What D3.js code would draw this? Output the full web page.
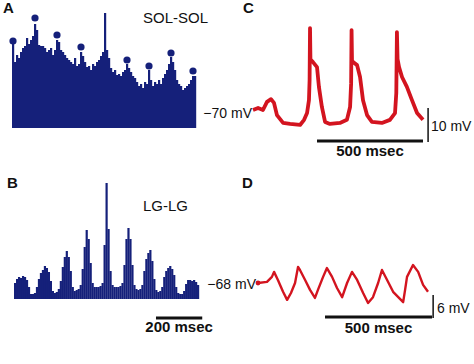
<!DOCTYPE html>
<html>
<head>
<meta charset="utf-8">
<script src="https://cdn.jsdelivr.net/npm/d3@7"></script>
<style>
  body { margin: 0; background: #fff; }
  svg text { font-family: "Liberation Sans", Arial, sans-serif; fill: #111; }
</style>
</head>
<body>
<div id="chart"></div>
<script>
// A: SOL-SOL correlogram, bin counts (left to right)
var solCounts = [84,66,73,70,76,80,82,90,84,88,92,104,98,83,82,82,80,76,78,80,73,78,88,86,78,76,73,70,68,66,64,70,62,64,76,72,66,61,62,58,64,62,66,68,72,76,115,78,70,60,56,58,53,54,52,56,58,64,60,56,52,50,46,42,44,40,46,44,58,48,42,46,44,48,44,50,54,58,64,71,66,58,48,44,42,38,40,42,44,48,52,52];
// bins marked with a dot, and the dot height
var solPeakBins = [0, 11, 22, 34, 57, 68, 79, 90];
var solPeakVals = [87, 110, 93, 81, 68, 62, 75, 57];

// B: LG-LG correlogram, bin counts
var lgCounts = [16,20,22,21,23,22,19,12,5,5,6,12,20,26,29,33,31,27,18,8,6,7,10,18,32,42,48,42,28,12,8,9,10,14,30,52,69,60,36,16,12,12,12,13,16,54,116,70,28,14,12,12,12,13,16,34,60,71,60,34,14,10,9,10,14,28,40,46,49,38,20,9,7,8,12,22,28,31,33,30,24,12,6,5,5,8,15,19,19,18,19,17,14];

// C: SOL membrane potential (msec, mV)
var solTime = [0,24,47,66,85,99,113,142,175,222,241,255,264,267,269,271,274,283,302,311,325,340,363,410,443,458,463,465,467,472,491,505,519,538,561,608,646,670,676,679,682,689,703,726,750,774,802];
var solVolt = [-70,-69.4,-70,-67.6,-66.8,-67.9,-71.5,-73.8,-74.1,-74.4,-72.9,-70.9,-67.1,-61.2,-45.9,-55.3,-55.3,-55.9,-57.4,-63.2,-69.1,-73.5,-74.1,-73.8,-72.9,-69.1,-62.1,-46.5,-55.3,-55.9,-56.8,-60.3,-67.1,-71.5,-73.5,-73.8,-72.9,-70.9,-65,-47.1,-55,-57.4,-60.3,-63.2,-67.1,-70.9,-72.9];

// D: LG membrane potential (msec, mV)
var lgTime = [0,42,65,75,93,117,136,154,173,187,196,220,243,266,280,304,322,346,369,393,416,439,463,491,514,537,561,579,603,631,678,687,696,724,748,771,794];
var lgVolt = [-68,-67.7,-66.4,-65.1,-67.2,-70.3,-72.4,-70.6,-68,-63.8,-64.6,-67.2,-69.8,-71.9,-69.8,-66.4,-64.1,-66.4,-69.3,-71.7,-68,-65.1,-67.2,-70.6,-73.2,-71.7,-68,-64.6,-67.2,-70.3,-73,-69.8,-66.4,-63.3,-65.1,-68.5,-70.3];

(function () {
  'use strict';

  var width = 474, height = 364,
      navy = '#15207a',
      red = '#d3141f';

  var svg = d3.select('#chart').append('svg')
    .attr('width', width)
    .attr('height', height);

  svg.append('rect').attr('width', width).attr('height', height).attr('fill', '#fff');

  // panel letters
  var letters = [['A', 3, 13], ['B', 7, 188], ['C', 243, 13], ['D', 242, 188]];
  svg.selectAll('.letter').data(letters).enter().append('text')
    .attr('class', 'letter')
    .attr('x', function (d) { return d[1]; })
    .attr('y', function (d) { return d[2]; })
    .style('font-size', '15px')
    .style('font-weight', 'bold')
    .text(function (d) { return d[0]; });

  // ---- A ----
  var xA = d3.scaleBand().domain(d3.range(solCounts.length)).range([12, 196]);
  var yA = d3.scaleLinear().domain([0, 115]).range([128, 13]);

  svg.append('g').selectAll('rect').data(solCounts).enter().append('rect')
    .attr('x', function (d, i) { return xA(i); })
    .attr('y', function (d) { return yA(d); })
    .attr('width', xA.bandwidth() + 0.2)
    .attr('height', function (d) { return yA(0) - yA(d); })
    .attr('fill', navy);

  svg.append('g').selectAll('circle').data(solPeakBins).enter().append('circle')
    .attr('cx', function (d) { return xA(d) + xA.bandwidth() / 2; })
    .attr('cy', function (d, i) { return yA(solPeakVals[i]); })
    .attr('r', 3.6)
    .attr('fill', navy);

  svg.append('text').attr('x', 143).attr('y', 23)
    .style('font-size', '15px').text('SOL-SOL');

  // ---- B ----
  var xB = d3.scaleBand().domain(d3.range(lgCounts.length)).range([14, 199]);
  var yB = d3.scaleLinear().domain([0, 116]).range([299, 183]);
  var lagB = d3.scaleLinear().domain([-400, 400]).range([14, 199]);

  svg.append('g').selectAll('rect').data(lgCounts).enter().append('rect')
    .attr('x', function (d, i) { return xB(i); })
    .attr('y', function (d) { return yB(d); })
    .attr('width', xB.bandwidth() + 0.2)
    .attr('height', function (d) { return yB(0) - yB(d); })
    .attr('fill', navy);

  svg.append('text').attr('x', 143).attr('y', 211)
    .style('font-size', '15px').text('LG-LG');

  svg.append('line')
    .attr('x1', lagB(214)).attr('x2', lagB(414))
    .attr('y1', 318).attr('y2', 318)
    .attr('stroke', '#111').attr('stroke-width', 3);
  svg.append('text').attr('x', lagB(314)).attr('y', 332)
    .attr('text-anchor', 'middle')
    .style('font-size', '15px').style('font-weight', 'bold')
    .text('200 msec');

  // ---- C ----
  var xC = d3.scaleLinear().domain([0, 802]).range([253, 423]);
  var yC = d3.scaleLinear().domain([-70, -60]).range([110, 76]);
  var lineC = d3.line()
    .x(function (d, i) { return xC(solTime[i]); })
    .y(function (d) { return yC(d); });

  svg.append('path').datum(solVolt)
    .attr('d', lineC)
    .attr('fill', 'none')
    .attr('stroke', red)
    .attr('stroke-width', 3.8)
    .attr('stroke-linejoin', 'round');

  svg.append('text').attr('x', 252).attr('y', 118)
    .attr('text-anchor', 'end')
    .style('font-size', '14px').text('\u221270 mV');

  svg.append('line')
    .attr('x1', xC(302)).attr('x2', xC(802))
    .attr('y1', 141).attr('y2', 141)
    .attr('stroke', '#111').attr('stroke-width', 3);
  svg.append('line')
    .attr('x1', xC(826)).attr('x2', xC(826))
    .attr('y1', yC(-69.4)).attr('y2', yC(-79.4))
    .attr('stroke', '#111').attr('stroke-width', 1.5);
  svg.append('text').attr('x', 431).attr('y', 131)
    .style('font-size', '14px').text('10 mV');
  svg.append('text').attr('x', xC(552)).attr('y', 156)
    .attr('text-anchor', 'middle')
    .style('font-size', '15px').style('font-weight', 'bold')
    .text('500 msec');

  // ---- D ----
  var xD = d3.scaleLinear().domain([0, 794]).range([258, 428]);
  var yD = d3.scaleLinear().domain([-68, -62]).range([283, 260]);
  var lineD = d3.line()
    .x(function (d, i) { return xD(lgTime[i]); })
    .y(function (d) { return yD(d); });

  svg.append('path').datum(lgVolt)
    .attr('d', lineD)
    .attr('fill', 'none')
    .attr('stroke', red)
    .attr('stroke-width', 2.4)
    .attr('stroke-linejoin', 'round');
  svg.append('circle')
    .attr('cx', xD(lgTime[0])).attr('cy', yD(lgVolt[0]))
    .attr('r', 2.4).attr('fill', red);

  svg.append('text').attr('x', 256).attr('y', 289)
    .attr('text-anchor', 'end')
    .style('font-size', '14px').text('\u221268 mV');

  svg.append('line')
    .attr('x1', xD(313)).attr('x2', xD(813))
    .attr('y1', 317).attr('y2', 317)
    .attr('stroke', '#111').attr('stroke-width', 3);
  svg.append('line')
    .attr('x1', xD(818)).attr('x2', xD(818))
    .attr('y1', yD(-71.1)).attr('y2', yD(-77.1))
    .attr('stroke', '#111').attr('stroke-width', 1.5);
  svg.append('text').attr('x', 437).attr('y', 313)
    .style('font-size', '14px').text('6 mV');
  svg.append('text').attr('x', xD(563)).attr('y', 333)
    .attr('text-anchor', 'middle')
    .style('font-size', '15px').style('font-weight', 'bold')
    .text('500 msec');
}());
</script>
</body>
</html>
